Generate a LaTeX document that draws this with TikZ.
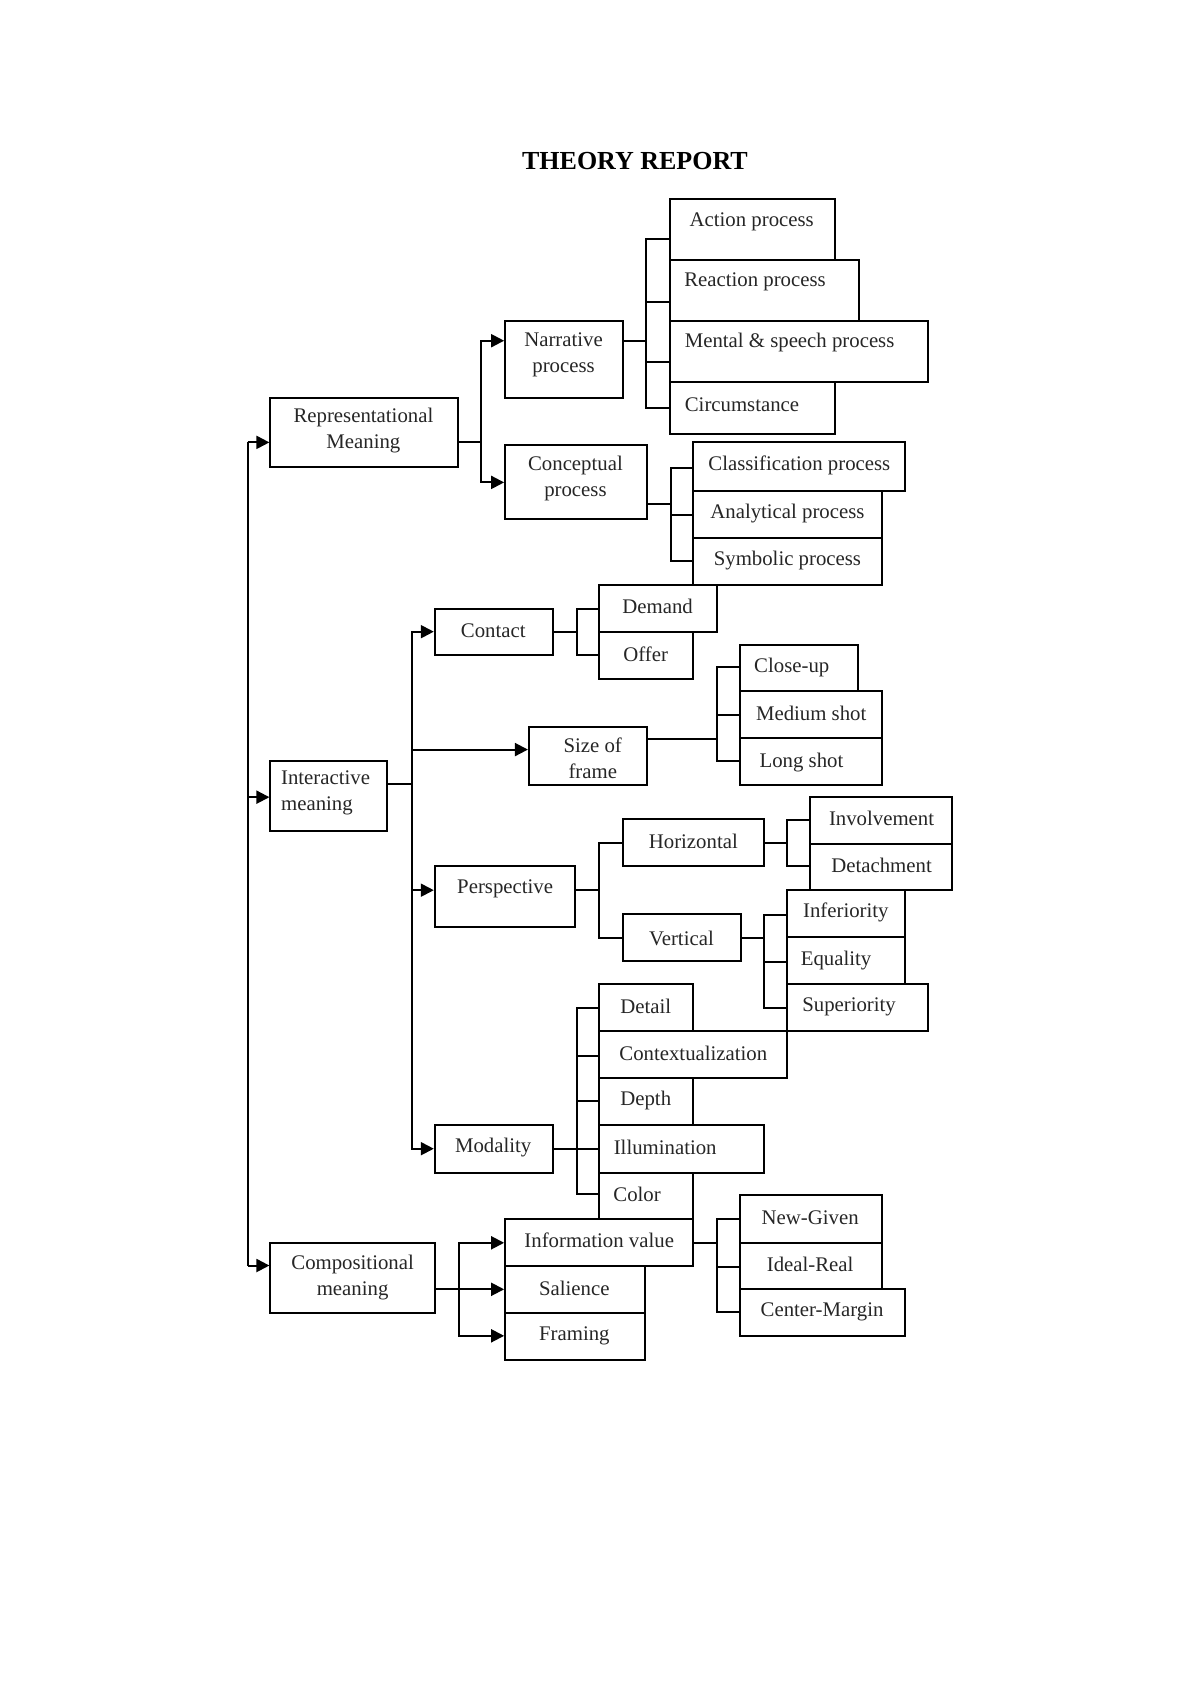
\documentclass[tikz,border=0pt]{standalone}
\usepackage{fontspec}
\setmainfont{Liberation Serif}
\usetikzlibrary{arrows.meta,fit}
\newcommand\bx[9][]{%
  \coordinate (#2-nw) at (#3,#4);
  \coordinate (#2-se) at (#5,#6);
  \node[box, fit=(#2-nw)(#2-se)] (#2) {};
  \node[lbl,#1] (#2-t) at (#7,#8) {#9};}
\begin{document}
\begin{tikzpicture}[x=0.54105pt,y=-0.54105pt,
  box/.style={draw, line width=1pt, inner sep=0pt},
  lbl/.style={font=\fontsize{10.4}{13}\selectfont, align=center, inner sep=0pt, text=black!85},
  wire/.style={line width=1pt},
  arr/.style={line width=1pt, -{Triangle[length=6.5pt,width=6.5pt]}}]
\useasboundingbox (0,0) rectangle (1109,1568);

\node[font=\bfseries\fontsize{13}{15}\selectfont] (title) at (587,149) {THEORY REPORT};

% Representational
\bx{rep}{250}{368}{423}{432}{336}{398}{Representational\\Meaning}
\bx{nar}{467}{297}{576}{368}{521}{328}{Narrative\\process}
\bx{con}{467}{411}{598}{480}{532}{442}{Conceptual\\process}
\bx{act}{619}{184}{772}{240}{695}{205}{Action process}
\bx{rea}{619}{240}{794}{297}{698}{261}{Reaction process}
\bx{men}{619}{297}{858}{353}{730}{317}{Mental \& speech process}
\bx{cir}{619}{353}{772}{401}{686}{374}{Circumstance}
\bx{cla}{641}{409}{837}{454}{739}{430}{Classification process}
\bx{ana}{641}{454}{815}{497}{728}{475}{Analytical process}
\bx{sym}{641}{497}{815}{541}{728}{518}{Symbolic process}

% Interactive
\bx[align=left]{int}{250}{704}{358}{768}{301}{733}{Interactive\\meaning}
\bx{cnt}{402}{563}{511}{606}{456}{583}{Contact}
\bx{dem}{554}{541}{663}{584}{608}{561}{Demand}
\bx{off}{554}{584}{641}{628}{597}{605}{Offer}
\bx{sof}{489}{672}{598}{726}{548}{701}{Size of\\frame}
\bx{clo}{684}{596}{793}{639}{732}{617}{Close-up}
\bx{med}{684}{639}{815}{682}{750}{660}{Medium shot}
\bx{lon}{684}{682}{815}{726}{741}{705}{Long shot}
\bx{per}{402}{801}{532}{857}{467}{822}{Perspective}
\bx{hor}{576}{757}{706}{801}{641}{778}{Horizontal}
\bx{ver}{576}{845}{685}{888}{630}{868}{Vertical}
\bx{inv}{749}{737}{880}{780}{815}{757}{Involvement}
\bx{det}{749}{780}{880}{823}{815}{800}{Detachment}
\bx{inf}{728}{823}{837}{866}{782}{844}{Inferiority}
\bx{equ}{728}{866}{837}{910}{773}{888}{Equality}
\bx{sup}{728}{910}{858}{953}{785}{931}{Superiority}
\bx{mod}{402}{1040}{511}{1084}{456}{1061}{Modality}
\bx{dtl}{554}{910}{641}{953}{597}{930}{Detail}
\bx{ctx}{554}{953}{728}{997}{641}{974}{Contextualization}
\bx{dep}{554}{997}{641}{1040}{597}{1017}{Depth}
\bx{ill}{554}{1040}{706}{1084}{615}{1061}{Illumination}
\bx{col}{554}{1084}{641}{1127}{589}{1104}{Color}

% Compositional
\bx{com}{250}{1149}{402}{1214}{326}{1181}{Compositional\\meaning}
\bx{iv}{467}{1127}{641}{1170}{554}{1147}{Information value}
\bx{sal}{467}{1170}{596}{1214}{531}{1191}{Salience}
\bx{fra}{467}{1214}{596}{1257}{531}{1235}{Framing}
\bx{new}{684}{1105}{815}{1149}{749}{1126}{New-Given}
\bx{ide}{684}{1149}{815}{1192}{749}{1169}{Ideal-Real}
\bx{cen}{684}{1192}{837}{1235}{760}{1213}{Center-Margin}

% main trunk
\coordinate (t1) at (229,409);
\coordinate (t2) at (229,737);
\coordinate (t3) at (229,1170);
\draw[wire] (t1) -- (t3);
\draw[arr] (t1) -- (rep.west |- t1);
\draw[arr] (t2) -- (int.west |- t2);
\draw[arr] (t3) -- (com.west |- t3);

% Representational branch
\draw[wire] (rep.east |- 0,409) -- (445,409);
\draw[arr] (445,409) |- (nar.west |- 0,315);
\draw[arr] (445,409) |- (con.west |- 0,446);

% Narrative children
\draw[wire] (nar.east |- 0,315) -- (597,315);
\draw[wire] (597,315) |- (act.west |- 0,221);
\draw[wire] (597,315) |- (rea.west |- 0,279);
\draw[wire] (597,315) |- (men.west |- 0,335);
\draw[wire] (597,315) |- (cir.west |- 0,377);

% Conceptual children
\draw[wire] (con.east |- 0,466) -- (620,466);
\draw[wire] (620,466) |- (cla.west |- 0,433);
\draw[wire] (620,466) |- (ana.west |- 0,476);
\draw[wire] (620,466) |- (sym.west |- 0,519);

% Interactive branch
\draw[wire] (int.east |- 0,725) -- (381,725);
\draw[arr] (381,725) |- (cnt.west |- 0,584);
\draw[arr] (381,725) |- (sof.west |- 0,693);
\draw[arr] (381,725) |- (per.west |- 0,823);
\draw[arr] (381,725) |- (mod.west |- 0,1062);

% Contact children
\draw[wire] (cnt.east |- 0,584) -- (533,584);
\draw[wire] (533,584) |- (dem.west |- 0,563);
\draw[wire] (533,584) |- (off.west |- 0,606);

% Size of frame children
\draw[wire] (sof.east |- 0,683) -- (663,683);
\draw[wire] (663,683) |- (clo.west |- 0,617);
\draw[wire] (663,683) |- (med.west |- 0,661);
\draw[wire] (663,683) |- (lon.west |- 0,704);

% Perspective children
\draw[wire] (per.east |- 0,823) -- (554,823);
\draw[wire] (554,823) |- (hor.west |- 0,779);
\draw[wire] (554,823) |- (ver.west |- 0,867);

% Horizontal children
\draw[wire] (hor.east |- 0,779) -- (728,779);
\draw[wire] (728,779) |- (inv.west |- 0,758);
\draw[wire] (728,779) |- (det.west |- 0,801);

% Vertical children
\draw[wire] (ver.east |- 0,867) -- (706,867);
\draw[wire] (706,867) |- (inf.west |- 0,846);
\draw[wire] (706,867) |- (equ.west |- 0,889);
\draw[wire] (706,867) |- (sup.west |- 0,932);

% Modality children
\draw[wire] (mod.east |- 0,1062) -- (533,1062);
\draw[wire] (533,1062) |- (dtl.west |- 0,932);
\draw[wire] (533,1062) |- (ctx.west |- 0,976);
\draw[wire] (533,1062) |- (dep.west |- 0,1018);
\draw[wire] (533,1062) |- (ill.west |- 0,1062);
\draw[wire] (533,1062) |- (col.west |- 0,1104);

% Compositional branch
\draw[wire] (com.east |- 0,1192) -- (424,1192);
\draw[arr] (424,1192) |- (iv.west |- 0,1149);
\draw[arr] (424,1192) -- (sal.west |- 0,1192);
\draw[arr] (424,1192) |- (fra.west |- 0,1235);

% Information value children
\draw[wire] (iv.east |- 0,1149) -- (663,1149);
\draw[wire] (663,1149) |- (new.west |- 0,1127);
\draw[wire] (663,1149) |- (ide.west |- 0,1171);
\draw[wire] (663,1149) |- (cen.west |- 0,1213);
\end{tikzpicture}
\end{document}
